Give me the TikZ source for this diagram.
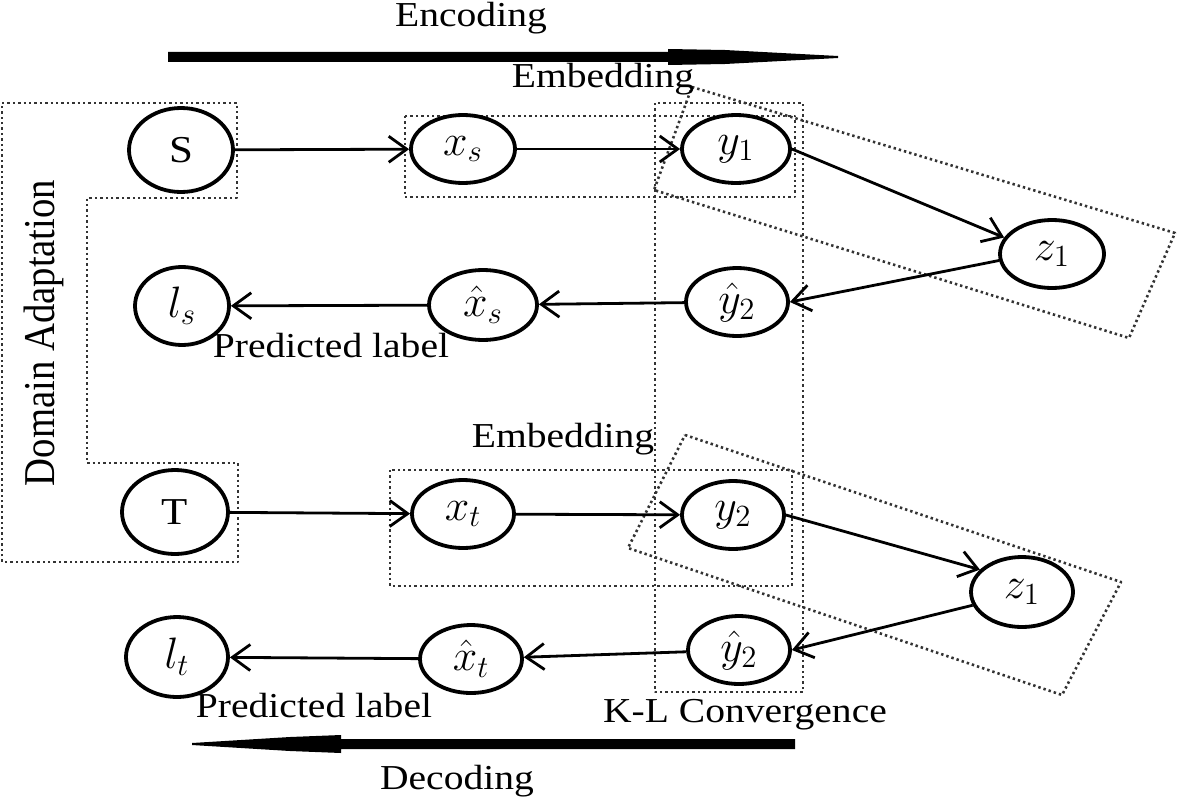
\documentclass[tikz,border=0pt]{standalone}
\usepackage{fix-cm}
\usepackage{fontspec}
\setmainfont{Liberation Serif}
\newfontfamily\lblfont[FakeStretch=1.13]{Liberation Serif}
\newfontfamily\dafont[FakeStretch=0.88]{Liberation Serif}
\usetikzlibrary{shapes.geometric,arrows.meta}
\begin{document}
\begin{tikzpicture}[x=0.5pt,y=-0.5pt,
  nd/.style={ellipse,draw,line width=1.9pt,inner sep=0pt,font=\fontsize{22}{24}\selectfont},
  conn/.style={line width=1.4pt,-{Straight Barb[length=9pt,width=13pt,line width=1.4pt]}},
  dotbox/.style={draw=black!80,line width=1.3pt,dash pattern=on 1.2pt off 1.5pt,line join=round},
  lbl/.style={font=\lblfont\fontsize{17.5}{20}\selectfont,inner sep=0pt},
  bigarrow/.style={fill=black}]
\useasboundingbox (0,0) rectangle (1181,797);

% dotted groupings
\draw[dotbox] (2,103) -- (237,103) -- (237,198) -- (87,198) -- (87,463) -- (238,463) -- (238,562) -- (2,562) -- cycle;
\draw[dotbox] (405,116) rectangle (795,197);
\draw[dotbox] (655,103) rectangle (803,692);
\draw[dotbox] (390,470) rectangle (792,586);
\draw[dotbox] (692,87) -- (1175,233) -- (1129,338) -- (654,190) -- cycle;
\draw[dotbox] (685,435) -- (1121,582) -- (1062,695) -- (628,548) -- cycle;

% nodes
\node[nd,minimum width=52pt,minimum height=42pt] (S) at (181,150) {\lblfont\fontsize{19}{22}\selectfont S};
\node[nd,minimum width=52pt,minimum height=34pt] (xs) at (463,149) {$x_s$};
\node[nd,minimum width=54pt,minimum height=34pt] (y1) at (736,149) {$y_1$};
\node[nd,minimum width=52pt,minimum height=34pt] (z1a) at (1052,254) {$z_1$};
\node[nd,minimum width=51pt,minimum height=34pt] (yh2a) at (737,302) {$\hat{y}_2$};
\node[nd,minimum width=54pt,minimum height=35pt] (xhs) at (483,305) {$\hat{x}_s$};
\node[nd,minimum width=47pt,minimum height=39pt] (ls) at (182,306) {$l_s$};
\node[nd,minimum width=53pt,minimum height=42pt] (T) at (175,512) {\lblfont\fontsize{19}{22}\selectfont T};
\node[nd,minimum width=51pt,minimum height=34pt] (xt) at (463,514) {$x_t$};
\node[nd,minimum width=51pt,minimum height=34pt] (y2) at (733,515) {$y_2$};
\node[nd,minimum width=51pt,minimum height=35pt] (z1b) at (1022,592) {$z_1$};
\node[nd,minimum width=51pt,minimum height=34pt] (yh2b) at (739,650) {$\hat{y}_2$};
\node[nd,minimum width=51pt,minimum height=34pt] (xht) at (471,659) {$\hat{x}_t$};
\node[nd,minimum width=51pt,minimum height=40pt] (lt) at (177,657) {$l_t$};

% connectors
\draw[conn] (S) -- (xs);
\draw[conn] (xs) -- (y1);
\draw[conn] (y1.east) -- (z1a.161);
\draw[conn] (z1a.187) -- (yh2a.east);
\draw[conn] (yh2a) -- (xhs);
\draw[conn] (xhs) -- (ls);
\draw[conn] (T) -- (xt);
\draw[conn] (xt) -- (y2);
\draw[conn] (y2.east) -- (z1b.152);
\draw[conn] (z1b.195) -- (yh2b.east);
\draw[conn] (yh2b) -- (xht);
\draw[conn] (xht) -- (lt);

% big arrows
\fill[bigarrow] (168,52) -- (668,52) -- (668,49) -- (725,50) -- (838,56) -- (838,58) -- (725,64) -- (668,65) -- (668,62) -- (168,62) -- cycle;
\fill[bigarrow] (795,739) -- (341,739) -- (341,735) -- (290,737) -- (192,743) -- (192,745) -- (290,751) -- (341,753) -- (341,749) -- (795,749) -- cycle;

% labels
\node[lbl,anchor=base] (enc) at (471,27) {Encoding};
\node[lbl,anchor=base] (dec) at (457,789) {Decoding};
\node[lbl,anchor=base] (emb1) at (603,88) {Embedding};
\node[lbl,anchor=base] (emb2) at (563,447) {Embedding};
\node[lbl,anchor=base] (pl1) at (331,357) {Predicted label};
\node[lbl,anchor=base] (pl2) at (314,717) {Predicted label};
\node[lbl,anchor=base] (kl) at (745,722) {K-L Convergence};
\node[font=\dafont\fontsize{22}{24}\selectfont,rotate=90,inner sep=0pt] (da) at (44,333) {Domain Adaptation};
\end{tikzpicture}
\end{document}
